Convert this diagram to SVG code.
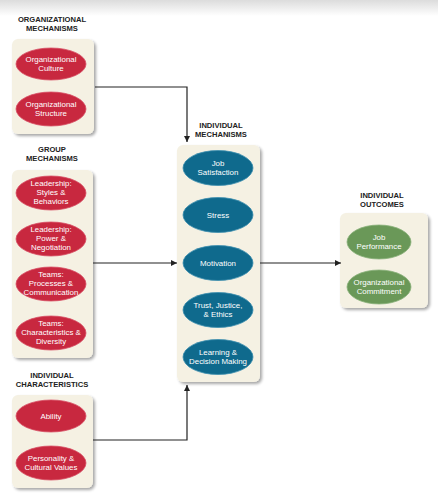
<svg xmlns="http://www.w3.org/2000/svg" width="438" height="500" viewBox="0 0 438 500">
<defs>
<linearGradient id="top" x1="0" y1="0" x2="0" y2="1">
<stop offset="0" stop-color="#dcdcdc"/>
<stop offset="1" stop-color="#ffffff"/>
</linearGradient>
<filter id="sh" x="-20%" y="-20%" width="140%" height="140%">
<feGaussianBlur in="SourceAlpha" stdDeviation="1.5"/>
<feOffset dx="1.5" dy="1.5"/>
<feComponentTransfer><feFuncA type="linear" slope="0.35"/></feComponentTransfer>
<feMerge><feMergeNode/><feMergeNode in="SourceGraphic"/></feMerge>
</filter>
<marker id="ah" viewBox="0 0 10 10" refX="10" refY="5" markerWidth="6" markerHeight="6" orient="auto" markerUnits="userSpaceOnUse">
<path d="M0,0 L10,5 L0,10 z" fill="#222"/>
</marker>
<style>
.panel{fill:#f5f1e3;filter:url(#sh)}
.red{fill:#c8283f;stroke:#d85066;stroke-width:0.8}
.blue{fill:#0f6a8d;stroke:#3d8fb0;stroke-width:0.8}
.green{fill:#6a9858;stroke:#8cb27c;stroke-width:0.8}
.t{font-family:"Liberation Sans",Arial,sans-serif;font-size:7.9px;fill:#fff;text-anchor:middle}
.h{font-family:"Liberation Sans",Arial,sans-serif;font-size:7.6px;font-weight:bold;fill:#222;text-anchor:middle}
.c{fill:none;stroke:#222;stroke-width:1.2}
</style>
</defs>
<rect x="0" y="0" width="438" height="500" fill="#fff"/>
<rect x="0" y="0" width="438" height="16" fill="url(#top)"/>

<g id="org">
<text class="h" x="52" y="22">ORGANIZATIONAL</text>
<text class="h" x="52" y="31">MECHANISMS</text>
<rect class="panel" x="12" y="39" width="82" height="95" rx="6"/>
<g id="org-culture"><ellipse class="red" cx="51" cy="64" rx="35" ry="16"/><text class="t" x="51" y="62">Organizational</text><text class="t" x="51" y="71">Culture</text></g>
<g id="org-structure"><ellipse class="red" cx="51" cy="109" rx="35" ry="17"/><text class="t" x="51" y="107">Organizational</text><text class="t" x="51" y="116">Structure</text></g>
</g>

<g id="group">
<text class="h" x="52" y="152">GROUP</text>
<text class="h" x="52" y="161">MECHANISMS</text>
<rect class="panel" x="12" y="170" width="81" height="188" rx="6"/>
<g id="lead-styles"><ellipse class="red" cx="51" cy="193" rx="35" ry="17"/><text class="t" x="51" y="186">Leadership:</text><text class="t" x="51" y="195">Styles &amp;</text><text class="t" x="51" y="204">Behaviors</text></g>
<g id="lead-power"><ellipse class="red" cx="51" cy="239" rx="35" ry="17"/><text class="t" x="51" y="232">Leadership:</text><text class="t" x="51" y="241">Power &amp;</text><text class="t" x="51" y="250">Negotiation</text></g>
<g id="teams-proc"><ellipse class="red" cx="51" cy="284" rx="35" ry="17"/><text class="t" x="51" y="277">Teams:</text><text class="t" x="51" y="286">Processes &amp;</text><text class="t" x="51" y="295">Communication</text></g>
<g id="teams-char"><ellipse class="red" cx="51" cy="333" rx="35" ry="17"/><text class="t" x="51" y="326">Teams:</text><text class="t" x="51" y="335">Characteristics &amp;</text><text class="t" x="51" y="344">Diversity</text></g>
</g>

<g id="indiv-char">
<text class="h" x="52" y="378">INDIVIDUAL</text>
<text class="h" x="52" y="387">CHARACTERISTICS</text>
<rect class="panel" x="12" y="395" width="81" height="93" rx="6"/>
<g id="ability"><ellipse class="red" cx="51" cy="416" rx="35" ry="16"/><text class="t" x="51" y="419">Ability</text></g>
<g id="personality"><ellipse class="red" cx="51" cy="463" rx="35" ry="17"/><text class="t" x="51" y="461">Personality &amp;</text><text class="t" x="51" y="470">Cultural Values</text></g>
</g>

<g id="indiv-mech">
<text class="h" x="221" y="128">INDIVIDUAL</text>
<text class="h" x="221" y="137">MECHANISMS</text>
<rect class="panel" x="177" y="145" width="83" height="237" rx="6"/>
<g id="job-sat"><ellipse class="blue" cx="218" cy="168" rx="35" ry="17.5"/><text class="t" x="218" y="166">Job</text><text class="t" x="218" y="175">Satisfaction</text></g>
<g id="stress"><ellipse class="blue" cx="218" cy="215" rx="35" ry="17.5"/><text class="t" x="218" y="218">Stress</text></g>
<g id="motivation"><ellipse class="blue" cx="218" cy="263" rx="35" ry="17.5"/><text class="t" x="218" y="266">Motivation</text></g>
<g id="trust"><ellipse class="blue" cx="218" cy="310" rx="35" ry="17.5"/><text class="t" x="218" y="308">Trust, Justice,</text><text class="t" x="218" y="317">&amp; Ethics</text></g>
<g id="learning"><ellipse class="blue" cx="218" cy="357" rx="35" ry="17.5"/><text class="t" x="218" y="355">Learning &amp;</text><text class="t" x="218" y="364">Decision Making</text></g>
</g>

<g id="outcomes">
<text class="h" x="382" y="198">INDIVIDUAL</text>
<text class="h" x="382" y="207">OUTCOMES</text>
<rect class="panel" x="340" y="213" width="88" height="95" rx="6"/>
<g id="job-perf"><ellipse class="green" cx="379" cy="242" rx="32" ry="17"/><text class="t" x="379" y="240">Job</text><text class="t" x="379" y="249">Performance</text></g>
<g id="org-commit"><ellipse class="green" cx="379" cy="287" rx="32" ry="17"/><text class="t" x="379" y="285">Organizational</text><text class="t" x="379" y="294">Commitment</text></g>
</g>

<g id="connectors">
<path class="c" d="M95,87 H187 V142" marker-end="url(#ah)"/>
<path class="c" d="M93,263 H177" marker-end="url(#ah)"/>
<path class="c" d="M93,440 H187 V385" marker-end="url(#ah)"/>
<path class="c" d="M260,263 H341" marker-end="url(#ah)"/>
</g>
</svg>
